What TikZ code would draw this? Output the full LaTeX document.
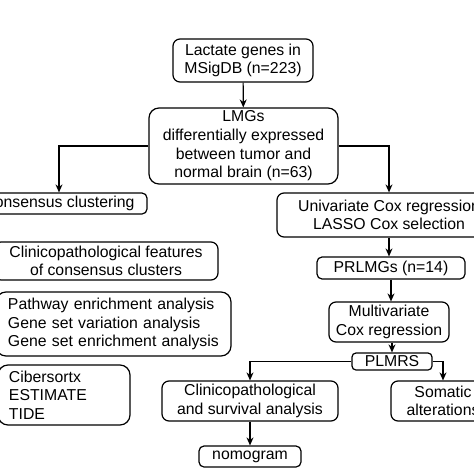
\documentclass[tikz,border=0pt]{standalone}
\usepackage{fontspec}
\setmainfont{Liberation Sans}
\usetikzlibrary{arrows.meta}

\tikzset{
  box/.style={draw, line width=1.2pt, rounded corners=7pt, align=center, inner sep=2pt,
    font=\fontsize{15.8}{18.6}\selectfont},
  lbox/.style={box, align=left},
  arr/.style={line width=1.2pt, -{Stealth[length=8pt,width=7pt]}}
}

\begin{document}
\begin{tikzpicture}[x=1pt,y=1pt,yscale=-1,xscale=1]
\useasboundingbox (0,0) rectangle (474,474);
\fill[white] (0,0) rectangle (474,474);
\clip (0,0) rectangle (474,474);

%Rounded Rect: top of the flow
\node[box, minimum width=140, minimum height=43] (lact) at (243,60.5) {Lactate genes in\\MSigDB (n=223)};
\node[box, minimum width=189, minimum height=76, rounded corners=10pt] (lmg) at (243.5,146) {LMGs\\differentially expressed\\between tumor and\\normal brain (n=63)};

%Rounded Rect: left column
\node[box, minimum width=176, minimum height=21, rounded corners=5pt] (cons) at (59,203.5) {Consensus clustering};
\node[box, minimum width=224, minimum height=38] (feat) at (106,261) {Clinicopathological features\\of consensus clusters};
\node[lbox, text width=211, inner xsep=12pt, minimum height=64, rounded corners=10pt] (path) at (113.5,324) {Pathway enrichment analysis\\Gene set variation analysis\\Gene set enrichment analysis};
\node[lbox, text width=110, inner xsep=11pt, minimum height=60, rounded corners=10pt] (ciber) at (64,395) {Cibersortx\\ESTIMATE\\TIDE};

%Rounded Rect: right column
\node[box, minimum width=224, minimum height=44] (uni) at (389,215) {Univariate Cox regression\\LASSO Cox selection};
\node[box, minimum width=148, minimum height=22, rounded corners=5pt] (prl) at (391,268) {PRLMGs (n=14)};
\node[box, minimum width=120, minimum height=40] (multi) at (389,322) {Multivariate\\Cox regression};
\node[box, minimum width=80, minimum height=17, inner ysep=0pt, rounded corners=4pt] (plm) at (392,361.5) {PLMRS};
\node[box, minimum width=176, minimum height=40] (clin) at (250,401) {Clinicopathological\\and survival analysis};
\node[box, minimum width=104, minimum height=40] (som) at (443,401) {Somatic\\alterations};
\node[box, minimum width=102, minimum height=21, rounded corners=5pt] (nom) at (250,456.5) {nomogram};

%Straight Lines
\draw[arr] (lact) -- (lmg);
\draw[arr] (lmg.west) -| (cons.north);
\draw[arr] (lmg.east) -| (uni.north);
\draw[arr] (uni.south) -- (uni.south |- prl.north);
\draw[arr] (prl.south) -- (prl.south |- multi.north);
\draw[arr] (multi.south -| plm.north) -- (plm.north);
\draw[arr] (plm.west) -| (clin.north);
\draw[arr] (plm.east) -| (som.north);
\draw[arr] (clin) -- (nom);

\end{tikzpicture}
\end{document}
